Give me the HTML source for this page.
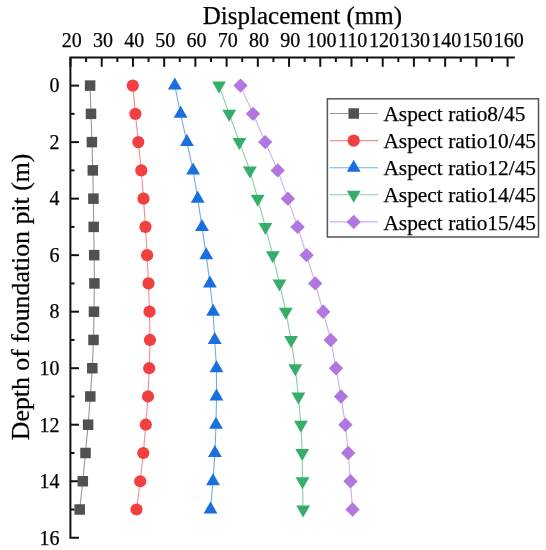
<!DOCTYPE html>
<html><head><meta charset="utf-8"><style>
html,body{margin:0;padding:0;background:#fff;}
svg{display:block;}
text{font-family:"Liberation Serif","Times New Roman",serif;fill:#000;stroke:#000;stroke-width:0.25px;}
</style></head><body>
<svg width="546" height="550" viewBox="0 0 546 550">
<rect width="546" height="550" fill="#fff"/>
<text x="202.8" y="23.9" font-size="25">Displacement (mm)</text>
<text transform="translate(28.7,440.2) rotate(-90)" font-size="25.8">Depth of foundation pit (m)</text>
<text x="71.7" y="47.3" font-size="20" text-anchor="middle">20</text>
<text x="102.92" y="47.3" font-size="20" text-anchor="middle">30</text>
<text x="134.14" y="47.3" font-size="20" text-anchor="middle">40</text>
<text x="165.36" y="47.3" font-size="20" text-anchor="middle">50</text>
<text x="196.58" y="47.3" font-size="20" text-anchor="middle">60</text>
<text x="227.8" y="47.3" font-size="20" text-anchor="middle">70</text>
<text x="259.02" y="47.3" font-size="20" text-anchor="middle">80</text>
<text x="290.24" y="47.3" font-size="20" text-anchor="middle">90</text>
<text x="321.46" y="47.3" font-size="20" text-anchor="middle">100</text>
<text x="352.68" y="47.3" font-size="20" text-anchor="middle">110</text>
<text x="383.9" y="47.3" font-size="20" text-anchor="middle">120</text>
<text x="415.12" y="47.3" font-size="20" text-anchor="middle">130</text>
<text x="446.34" y="47.3" font-size="20" text-anchor="middle">140</text>
<text x="477.56" y="47.3" font-size="20" text-anchor="middle">150</text>
<text x="508.78" y="47.3" font-size="20" text-anchor="middle">160</text>
<text x="59.6" y="92.4" font-size="20" text-anchor="end">0</text>
<text x="59.6" y="148.92" font-size="20" text-anchor="end">2</text>
<text x="59.6" y="205.44" font-size="20" text-anchor="end">4</text>
<text x="59.6" y="261.96" font-size="20" text-anchor="end">6</text>
<text x="59.6" y="318.48" font-size="20" text-anchor="end">8</text>
<text x="59.6" y="375" font-size="20" text-anchor="end">10</text>
<text x="59.6" y="431.52" font-size="20" text-anchor="end">12</text>
<text x="59.6" y="488.04" font-size="20" text-anchor="end">14</text>
<text x="59.6" y="544.56" font-size="20" text-anchor="end">16</text>
<g stroke="#111" stroke-width="2" fill="none">
<path d="M79,537.76 H70.4 V57.5 H514.8"/>
<path d="M70.5,57.5 V66.8"/>
<path d="M86.11,57.5 V62"/>
<path d="M101.72,57.5 V66.8"/>
<path d="M117.33,57.5 V62"/>
<path d="M132.94,57.5 V66.8"/>
<path d="M148.55,57.5 V62"/>
<path d="M164.16,57.5 V66.8"/>
<path d="M179.77,57.5 V62"/>
<path d="M195.38,57.5 V66.8"/>
<path d="M210.99,57.5 V62"/>
<path d="M226.6,57.5 V66.8"/>
<path d="M242.21,57.5 V62"/>
<path d="M257.82,57.5 V66.8"/>
<path d="M273.43,57.5 V62"/>
<path d="M289.04,57.5 V66.8"/>
<path d="M304.65,57.5 V62"/>
<path d="M320.26,57.5 V66.8"/>
<path d="M335.87,57.5 V62"/>
<path d="M351.48,57.5 V66.8"/>
<path d="M367.09,57.5 V62"/>
<path d="M382.7,57.5 V66.8"/>
<path d="M398.31,57.5 V62"/>
<path d="M413.92,57.5 V66.8"/>
<path d="M429.53,57.5 V62"/>
<path d="M445.14,57.5 V66.8"/>
<path d="M460.75,57.5 V62"/>
<path d="M476.36,57.5 V66.8"/>
<path d="M491.97,57.5 V62"/>
<path d="M507.58,57.5 V66.8"/>
<path d="M70.4,85.6 H79"/>
<path d="M70.4,113.86 H74.5"/>
<path d="M70.4,142.12 H79"/>
<path d="M70.4,170.38 H74.5"/>
<path d="M70.4,198.64 H79"/>
<path d="M70.4,226.9 H74.5"/>
<path d="M70.4,255.16 H79"/>
<path d="M70.4,283.42 H74.5"/>
<path d="M70.4,311.68 H79"/>
<path d="M70.4,339.94 H74.5"/>
<path d="M70.4,368.2 H79"/>
<path d="M70.4,396.46 H74.5"/>
<path d="M70.4,424.72 H79"/>
<path d="M70.4,452.98 H74.5"/>
<path d="M70.4,481.24 H79"/>
<path d="M70.4,509.5 H74.5"/>
</g>
<polyline points="90.1,85.6 91,113.86 91.9,142.12 92.8,170.38 93.4,198.64 93.7,226.9 94.2,255.16 94.4,283.42 94,311.68 93.5,339.94 92.3,368.2 90.3,396.46 88.1,424.72 85.5,452.98 82.8,481.24 79.7,509.5" fill="none" stroke="#515151" stroke-width="1.1" stroke-opacity="0.6"/>
<polyline points="132.8,85.6 135.4,113.86 138.3,142.12 141.3,170.38 143.5,198.64 145.5,226.9 147.1,255.16 148.5,283.42 149.5,311.68 150,339.94 149.2,368.2 148,396.46 145.8,424.72 143.3,452.98 140.2,481.24 136.5,509.5" fill="none" stroke="#F14040" stroke-width="1.1" stroke-opacity="0.6"/>
<polyline points="174.8,85.6 180.6,113.86 186.9,142.12 193.1,170.38 197.7,198.64 202,226.9 206.2,255.16 209.9,283.42 213.1,311.68 214.7,339.94 216.5,368.2 216.5,396.46 216,424.72 214.9,452.98 213,481.24 210.5,509.5" fill="none" stroke="#1A6FDF" stroke-width="1.1" stroke-opacity="0.6"/>
<polyline points="219,85.6 229.2,113.86 239.4,142.12 249.9,170.38 257.7,198.64 265.4,226.9 272.8,255.16 279.5,283.42 285.8,311.68 291.1,339.94 295.3,368.2 298.4,396.46 300.9,424.72 302.2,452.98 302.5,481.24 303.1,509.5" fill="none" stroke="#37AD6B" stroke-width="1.1" stroke-opacity="0.6"/>
<polyline points="240.5,85.6 253,113.86 265.2,142.12 277.7,170.38 287.9,198.64 297.6,226.9 306.6,255.16 315.2,283.42 323.2,311.68 330.7,339.94 336,368.2 341,396.46 345.4,424.72 348.2,452.98 350.5,481.24 352.5,509.5" fill="none" stroke="#B177DE" stroke-width="1.1" stroke-opacity="0.6"/>
<rect x="84.85" y="80.35" width="10.5" height="10.5" fill="#515151"/>
<rect x="85.75" y="108.61" width="10.5" height="10.5" fill="#515151"/>
<rect x="86.65" y="136.87" width="10.5" height="10.5" fill="#515151"/>
<rect x="87.55" y="165.13" width="10.5" height="10.5" fill="#515151"/>
<rect x="88.15" y="193.39" width="10.5" height="10.5" fill="#515151"/>
<rect x="88.45" y="221.65" width="10.5" height="10.5" fill="#515151"/>
<rect x="88.95" y="249.91" width="10.5" height="10.5" fill="#515151"/>
<rect x="89.15" y="278.17" width="10.5" height="10.5" fill="#515151"/>
<rect x="88.75" y="306.43" width="10.5" height="10.5" fill="#515151"/>
<rect x="88.25" y="334.69" width="10.5" height="10.5" fill="#515151"/>
<rect x="87.05" y="362.95" width="10.5" height="10.5" fill="#515151"/>
<rect x="85.05" y="391.21" width="10.5" height="10.5" fill="#515151"/>
<rect x="82.85" y="419.47" width="10.5" height="10.5" fill="#515151"/>
<rect x="80.25" y="447.73" width="10.5" height="10.5" fill="#515151"/>
<rect x="77.55" y="475.99" width="10.5" height="10.5" fill="#515151"/>
<rect x="74.45" y="504.25" width="10.5" height="10.5" fill="#515151"/>
<circle cx="132.8" cy="85.6" r="6.1" fill="#F14040"/>
<circle cx="135.4" cy="113.86" r="6.1" fill="#F14040"/>
<circle cx="138.3" cy="142.12" r="6.1" fill="#F14040"/>
<circle cx="141.3" cy="170.38" r="6.1" fill="#F14040"/>
<circle cx="143.5" cy="198.64" r="6.1" fill="#F14040"/>
<circle cx="145.5" cy="226.9" r="6.1" fill="#F14040"/>
<circle cx="147.1" cy="255.16" r="6.1" fill="#F14040"/>
<circle cx="148.5" cy="283.42" r="6.1" fill="#F14040"/>
<circle cx="149.5" cy="311.68" r="6.1" fill="#F14040"/>
<circle cx="150" cy="339.94" r="6.1" fill="#F14040"/>
<circle cx="149.2" cy="368.2" r="6.1" fill="#F14040"/>
<circle cx="148" cy="396.46" r="6.1" fill="#F14040"/>
<circle cx="145.8" cy="424.72" r="6.1" fill="#F14040"/>
<circle cx="143.3" cy="452.98" r="6.1" fill="#F14040"/>
<circle cx="140.2" cy="481.24" r="6.1" fill="#F14040"/>
<circle cx="136.5" cy="509.5" r="6.1" fill="#F14040"/>
<polygon points="174.8,77.6 181.73,89.6 167.87,89.6" fill="#1A6FDF"/>
<polygon points="180.6,105.86 187.53,117.86 173.67,117.86" fill="#1A6FDF"/>
<polygon points="186.9,134.12 193.83,146.12 179.97,146.12" fill="#1A6FDF"/>
<polygon points="193.1,162.38 200.03,174.38 186.17,174.38" fill="#1A6FDF"/>
<polygon points="197.7,190.64 204.63,202.64 190.77,202.64" fill="#1A6FDF"/>
<polygon points="202,218.9 208.93,230.9 195.07,230.9" fill="#1A6FDF"/>
<polygon points="206.2,247.16 213.13,259.16 199.27,259.16" fill="#1A6FDF"/>
<polygon points="209.9,275.42 216.83,287.42 202.97,287.42" fill="#1A6FDF"/>
<polygon points="213.1,303.68 220.03,315.68 206.17,315.68" fill="#1A6FDF"/>
<polygon points="214.7,331.94 221.63,343.94 207.77,343.94" fill="#1A6FDF"/>
<polygon points="216.5,360.2 223.43,372.2 209.57,372.2" fill="#1A6FDF"/>
<polygon points="216.5,388.46 223.43,400.46 209.57,400.46" fill="#1A6FDF"/>
<polygon points="216,416.72 222.93,428.72 209.07,428.72" fill="#1A6FDF"/>
<polygon points="214.9,444.98 221.83,456.98 207.97,456.98" fill="#1A6FDF"/>
<polygon points="213,473.24 219.93,485.24 206.07,485.24" fill="#1A6FDF"/>
<polygon points="210.5,501.5 217.43,513.5 203.57,513.5" fill="#1A6FDF"/>
<polygon points="219,93.6 225.93,81.6 212.07,81.6" fill="#37AD6B"/>
<polygon points="229.2,121.86 236.13,109.86 222.27,109.86" fill="#37AD6B"/>
<polygon points="239.4,150.12 246.33,138.12 232.47,138.12" fill="#37AD6B"/>
<polygon points="249.9,178.38 256.83,166.38 242.97,166.38" fill="#37AD6B"/>
<polygon points="257.7,206.64 264.63,194.64 250.77,194.64" fill="#37AD6B"/>
<polygon points="265.4,234.9 272.33,222.9 258.47,222.9" fill="#37AD6B"/>
<polygon points="272.8,263.16 279.73,251.16 265.87,251.16" fill="#37AD6B"/>
<polygon points="279.5,291.42 286.43,279.42 272.57,279.42" fill="#37AD6B"/>
<polygon points="285.8,319.68 292.73,307.68 278.87,307.68" fill="#37AD6B"/>
<polygon points="291.1,347.94 298.03,335.94 284.17,335.94" fill="#37AD6B"/>
<polygon points="295.3,376.2 302.23,364.2 288.37,364.2" fill="#37AD6B"/>
<polygon points="298.4,404.46 305.33,392.46 291.47,392.46" fill="#37AD6B"/>
<polygon points="300.9,432.72 307.83,420.72 293.97,420.72" fill="#37AD6B"/>
<polygon points="302.2,460.98 309.13,448.98 295.27,448.98" fill="#37AD6B"/>
<polygon points="302.5,489.24 309.43,477.24 295.57,477.24" fill="#37AD6B"/>
<polygon points="303.1,517.5 310.03,505.5 296.17,505.5" fill="#37AD6B"/>
<polygon points="240.5,78.4 247.7,85.6 240.5,92.8 233.3,85.6" fill="#B177DE"/>
<polygon points="253,106.66 260.2,113.86 253,121.06 245.8,113.86" fill="#B177DE"/>
<polygon points="265.2,134.92 272.4,142.12 265.2,149.32 258,142.12" fill="#B177DE"/>
<polygon points="277.7,163.18 284.9,170.38 277.7,177.58 270.5,170.38" fill="#B177DE"/>
<polygon points="287.9,191.44 295.1,198.64 287.9,205.84 280.7,198.64" fill="#B177DE"/>
<polygon points="297.6,219.7 304.8,226.9 297.6,234.1 290.4,226.9" fill="#B177DE"/>
<polygon points="306.6,247.96 313.8,255.16 306.6,262.36 299.4,255.16" fill="#B177DE"/>
<polygon points="315.2,276.22 322.4,283.42 315.2,290.62 308,283.42" fill="#B177DE"/>
<polygon points="323.2,304.48 330.4,311.68 323.2,318.88 316,311.68" fill="#B177DE"/>
<polygon points="330.7,332.74 337.9,339.94 330.7,347.14 323.5,339.94" fill="#B177DE"/>
<polygon points="336,361 343.2,368.2 336,375.4 328.8,368.2" fill="#B177DE"/>
<polygon points="341,389.26 348.2,396.46 341,403.66 333.8,396.46" fill="#B177DE"/>
<polygon points="345.4,417.52 352.6,424.72 345.4,431.92 338.2,424.72" fill="#B177DE"/>
<polygon points="348.2,445.78 355.4,452.98 348.2,460.18 341,452.98" fill="#B177DE"/>
<polygon points="350.5,474.04 357.7,481.24 350.5,488.44 343.3,481.24" fill="#B177DE"/>
<polygon points="352.5,502.3 359.7,509.5 352.5,516.7 345.3,509.5" fill="#B177DE"/>
<rect x="327.4" y="98.8" width="211.1" height="138.2" fill="#fff" stroke="#555" stroke-width="1.5"/>
<path d="M329.7,113.5 H378" stroke="#515151" stroke-width="1.1" stroke-opacity="0.6"/>
<rect x="348.45" y="108.25" width="10.5" height="10.5" fill="#515151"/>
<text x="383.4" y="121.1" font-size="21.4">Aspect ratio8/45</text>
<path d="M329.7,140.6 H378" stroke="#F14040" stroke-width="1.1" stroke-opacity="0.6"/>
<circle cx="353.7" cy="140.6" r="6.1" fill="#F14040"/>
<text x="383.4" y="148.2" font-size="21.4">Aspect ratio10/45</text>
<path d="M329.7,167.7 H378" stroke="#1A6FDF" stroke-width="1.1" stroke-opacity="0.6"/>
<polygon points="353.7,159.7 360.63,171.7 346.77,171.7" fill="#1A6FDF"/>
<text x="383.4" y="175.3" font-size="21.4">Aspect ratio12/45</text>
<path d="M329.7,194.8 H378" stroke="#37AD6B" stroke-width="1.1" stroke-opacity="0.6"/>
<polygon points="353.7,202.8 360.63,190.8 346.77,190.8" fill="#37AD6B"/>
<text x="383.4" y="202.4" font-size="21.4">Aspect ratio14/45</text>
<path d="M329.7,221.9 H378" stroke="#B177DE" stroke-width="1.1" stroke-opacity="0.6"/>
<polygon points="353.7,214.7 360.9,221.9 353.7,229.1 346.5,221.9" fill="#B177DE"/>
<text x="383.4" y="229.5" font-size="21.4">Aspect ratio15/45</text>
</svg>
</body></html>
